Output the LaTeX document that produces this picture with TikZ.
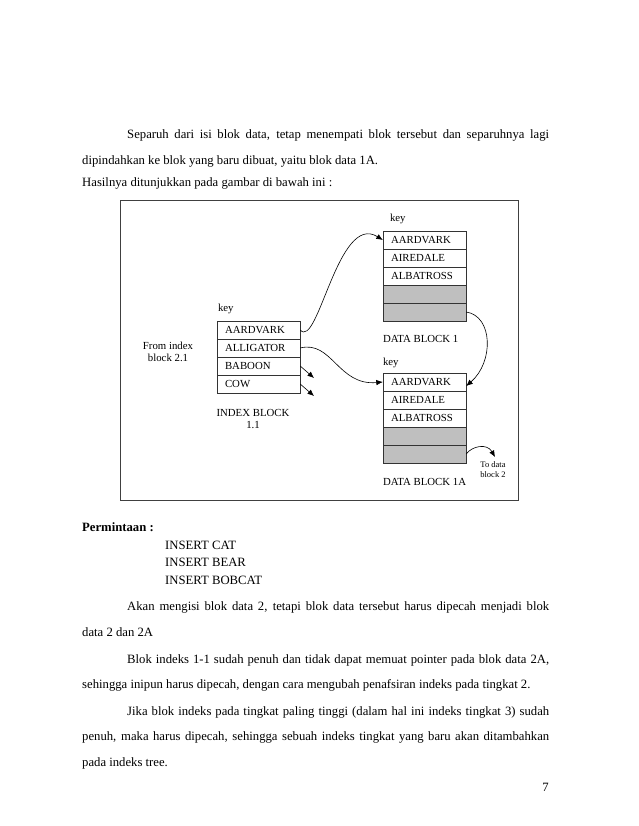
\documentclass[tikz,border=0pt]{standalone}
\usepackage{fontspec}
\setmainfont{Liberation Serif}
\usetikzlibrary{positioning,arrows.meta}

\tikzset{
  body/.style={anchor=base west, inner sep=0pt, font=\fontsize{12.7}{15}\selectfont},
  cell/.style={draw=black!80, text width=67pt, inner xsep=8pt, inner ysep=0pt,
    minimum height=18pt, align=left, font=\fontsize{10.8}{12}\selectfont},
  shaded/.style={cell, fill=black!25},
  lbl/.style={inner sep=0pt, font=\fontsize{10.8}{12}\selectfont},
  ptr/.style={-{Latex[length=6.5pt,width=5.5pt]}, line width=0.6pt},
}

\begin{document}
\begin{tikzpicture}[x=1pt, y=-1pt, node distance=18pt]
  \useasboundingbox (0,0) rectangle (638,826);

  % text above the figure
  \node[body] (p1) at (127,139) {\makebox[422pt][s]{Separuh dari isi blok data, tetap menempati blok tersebut dan separuhnya lagi}};
  \node[body] (p2) at (82,165) {dipindahkan ke blok yang baru dibuat, yaitu blok data 1A.};
  \node[body] (p3) at (82,187) {Hasilnya ditunjukkan pada gambar di bawah ini :};

  % frame
  \draw[black!75, line width=0.8pt] (120,200) rectangle (518,500);

  % index block 1.1
  \node[cell] (i1) at (258.5,330) {AARDVARK};
  \node[cell, below of=i1] (i2) {ALLIGATOR};
  \node[cell, below of=i2] (i3) {BABOON};
  \node[cell, below of=i3] (i4) {COW};

  % data block 1
  \node[cell] (d1) at (424.5,240) {AARDVARK};
  \node[cell, below of=d1] (d2) {AIREDALE};
  \node[cell, below of=d2] (d3) {ALBATROSS};
  \node[shaded, below of=d3] (d4) {};
  \node[shaded, below of=d4] (d5) {};

  % data block 1A
  \node[cell] (e1) at (424.5,382) {AARDVARK};
  \node[cell, below of=e1] (e2) {AIREDALE};
  \node[cell, below of=e2] (e3) {ALBATROSS};
  \node[shaded, below of=e3] (e4) {};
  \node[shaded, below of=e4] (e5) {};

  % labels
  \node[lbl, anchor=base west] (ikey) at ([xshift=1pt, yshift=9pt]i1.north west) {key};
  \node[lbl, anchor=base west] (dkey) at ([xshift=7pt, yshift=9pt]d1.north west) {key};
  \node[lbl, anchor=base west] (ekey) at ([yshift=7pt]e1.north west) {key};
  \node[lbl, anchor=base west] (dname) at ([yshift=-21pt]d5.south west) {DATA BLOCK 1};
  \node[lbl, anchor=base west] (ename) at ([yshift=-22pt]e5.south west) {DATA BLOCK 1A};
  \node[lbl, align=center] (iname) at (253,419) {INDEX BLOCK\\1.1};
  \node[lbl, align=center] (from) at (168,352) {From index\\block 2.1};
  \node[lbl, align=center, font=\fontsize{8.5}{10}\selectfont] (todata) at (493,470) {To data\\block 2};

  % free ends
  \coordinate (bab) at (314,378);
  \coordinate (cow) at (314,396);
  \coordinate (nxt) at (495,457);

  % pointers
  \draw[ptr] (i1.east) .. controls (318,350) and (338,212) .. (d1.west);
  \draw[ptr] (i2.east) .. controls (332,340) and (338,386) .. (e1.west);
  \draw[ptr] (i3.east) -- (bab);
  \draw[ptr] (i4.east) -- (cow);
  \draw[ptr] (d5.east) .. controls (493,316) and (494,362) .. ([yshift=-4pt]e1.east);
  \draw[ptr] (e5.east) .. controls (472,446) and (487,443) .. (nxt);

  % text below the figure
  \node[body, font=\fontsize{12.7}{15}\selectfont\bfseries] (p4) at (82,531) {Permintaan :};
  \node[body] (q1) at (165,549) {INSERT CAT};
  \node[body] (q2) at (165,566) {INSERT BEAR};
  \node[body] (q3) at (165,584) {INSERT BOBCAT};
  \node[body] (p5) at (127,610) {\makebox[422pt][s]{Akan mengisi blok data 2, tetapi blok data tersebut harus dipecah menjadi blok}};
  \node[body] (p6) at (82,636) {data 2 dan 2A};
  \node[body] (p7) at (127,663) {\makebox[422pt][s]{Blok indeks 1-1 sudah penuh dan tidak dapat memuat pointer pada blok data 2A,}};
  \node[body] (p8) at (82,688) {sehingga inipun harus dipecah, dengan cara mengubah penafsiran indeks pada tingkat 2.};
  \node[body] (p9) at (127,715) {\makebox[422pt][s]{Jika blok indeks pada tingkat paling tinggi (dalam hal ini indeks tingkat 3) sudah}};
  \node[body] (p10) at (82,740) {\makebox[467pt][s]{penuh, maka harus dipecah, sehingga sebuah indeks tingkat yang baru akan ditambahkan}};
  \node[body] (p11) at (82,766) {pada indeks tree.};
  \node[body, anchor=base east] (pg) at (549,791) {7};
\end{tikzpicture}
\end{document}
